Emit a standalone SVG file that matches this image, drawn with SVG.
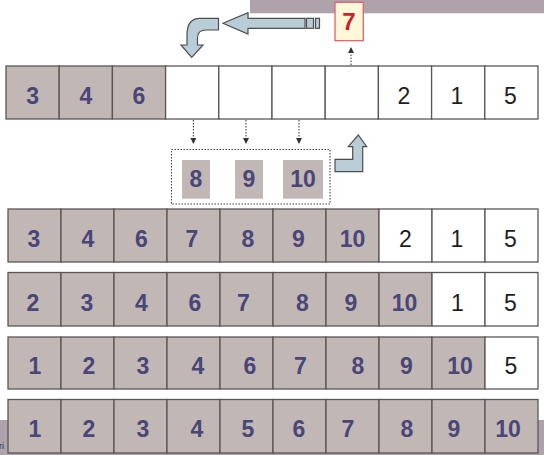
<svg xmlns="http://www.w3.org/2000/svg" width="544" height="455" viewBox="0 0 544 455">
<style>
.g{fill:#c1b7b5;stroke:#5a5656;stroke-width:1.3}
.w{fill:#ffffff;stroke:#5a5656;stroke-width:1.3}
.tg{font-family:"Liberation Sans",Arial,sans-serif;font-size:23px;font-weight:bold;fill:#4b4678;text-anchor:middle}
.tw{font-family:"Liberation Sans",Arial,sans-serif;font-size:23px;fill:#1e1e1e;text-anchor:middle}
.blk{fill:#b9cdd6;stroke:#4e4e4e;stroke-width:1.2}
.dot{fill:none;stroke:#444;stroke-width:1.1;stroke-dasharray:1.5 1.5}
</style>
<defs>
<marker id="ah" markerWidth="6" markerHeight="6" refX="5" refY="3" orient="auto" markerUnits="userSpaceOnUse">
<path d="M0,0 L6,3 L0,6 Z" fill="#333"/>
</marker>
</defs>
<rect x="0" y="0" width="544" height="455" fill="#fff"/>
<g id="bands">
<rect x="250" y="0" width="294" height="13.3" fill="#aea2ab"/>
<rect x="0" y="420" width="544" height="35" fill="#aea2ab"/>
<text x="-1" y="449" font-family="Liberation Sans,Arial,sans-serif" font-size="9" fill="#333">ri</text>
</g>
<g id="connectors">
<path class="dot" d="M193.4,99 V143" marker-end="url(#ah)"/>
<path class="dot" d="M246,99 V143" marker-end="url(#ah)"/>
<path class="dot" d="M299,99 V143" marker-end="url(#ah)"/>
<path class="dot" d="M351,95 V48" marker-end="url(#ah)"/>
<path class="blk" d="M223,23.3 L248,12.7 L248,18.3 L305,18.3 L305,28.3 L248,28.3 L248,34 Z"/>
<rect class="blk" x="306.5" y="18.3" width="7" height="10"/>
<rect class="blk" x="315.5" y="18.3" width="4" height="10"/>
<path class="blk" d="M218.5,18.3 L200,18.3 Q187,18.3 187,35 L187,45 L181,45 L191.7,57.3 L203,45 L197.5,45 L197.5,38 Q197.5,30 206,30 L218.5,30 Z"/>
<path class="blk" d="M335,159.3 L352.7,159.3 L352.7,146.7 L348.3,146.7 L358.3,135 L366.7,146.7 L362.7,146.7 L362.7,171.7 L335,171.7 Z"/>
</g>
<g id="node-7">
<rect x="335" y="2.3" width="28.3" height="38.4" fill="#fff8d8" stroke="#e0606c" stroke-width="1.3"/>
<text x="349" y="30" font-family="Liberation Sans,Arial,sans-serif" font-size="24" font-weight="bold" fill="#cc1f2e" text-anchor="middle">7</text>
</g>
<g id="row1">
<rect class="g" x="6" y="66" width="53.2" height="53"/>
<rect class="g" x="59.2" y="66" width="53.2" height="53"/>
<rect class="g" x="112.4" y="66" width="53.2" height="53"/>
<rect class="w" x="165.6" y="66" width="53.2" height="53"/>
<rect class="w" x="218.8" y="66" width="53.2" height="53"/>
<rect class="w" x="272" y="66" width="53.2" height="53"/>
<rect class="w" x="325.2" y="66" width="53.2" height="53"/>
<rect class="w" x="378.4" y="66" width="53.2" height="53"/>
<rect class="w" x="431.6" y="66" width="53.2" height="53"/>
<rect class="w" x="484.8" y="66" width="53.2" height="53"/>
<text class="tg" x="32.6" y="104">3</text>
<text class="tg" x="85.8" y="104">4</text>
<text class="tg" x="139" y="104">6</text>
<text class="tw" x="404" y="104">2</text>
<text class="tw" x="457" y="104">1</text>
<text class="tw" x="510.5" y="104">5</text>
</g>
<g id="buffer">
<rect class="dot" x="171.5" y="149.5" width="158.5" height="54.5"/>
<rect x="182" y="160" width="28" height="38.7" fill="#c1b7b5"/>
<rect x="235" y="160" width="28" height="38.7" fill="#c1b7b5"/>
<rect x="283" y="160" width="40" height="38.7" fill="#c1b7b5"/>
<text class="tg" x="196" y="187">8</text>
<text class="tg" x="249" y="187">9</text>
<text class="tg" x="303" y="187">10</text>
</g>
<g id="row2">
<rect class="g" x="8" y="209" width="53" height="53"/>
<rect class="g" x="61" y="209" width="53" height="53"/>
<rect class="g" x="114" y="209" width="53" height="53"/>
<rect class="g" x="167" y="209" width="53" height="53"/>
<rect class="g" x="220" y="209" width="53" height="53"/>
<rect class="g" x="273" y="209" width="53" height="53"/>
<rect class="g" x="326" y="209" width="53" height="53"/>
<rect class="w" x="379" y="209" width="53" height="53"/>
<rect class="w" x="432" y="209" width="53" height="53"/>
<rect class="w" x="485" y="209" width="53" height="53"/>
<text class="tg" x="34" y="247">3</text>
<text class="tg" x="88" y="247">4</text>
<text class="tg" x="141.5" y="247">6</text>
<text class="tg" x="192" y="247">7</text>
<text class="tg" x="248" y="247">8</text>
<text class="tg" x="298.5" y="247">9</text>
<text class="tg" x="352.5" y="247">10</text>
<text class="tw" x="405.5" y="247">2</text>
<text class="tw" x="457" y="247">1</text>
<text class="tw" x="510.5" y="247">5</text>
</g>
<g id="row3">
<rect class="g" x="8" y="272.5" width="53" height="53.5"/>
<rect class="g" x="61" y="272.5" width="53" height="53.5"/>
<rect class="g" x="114" y="272.5" width="53" height="53.5"/>
<rect class="g" x="167" y="272.5" width="53" height="53.5"/>
<rect class="g" x="220" y="272.5" width="53" height="53.5"/>
<rect class="g" x="273" y="272.5" width="53" height="53.5"/>
<rect class="g" x="326" y="272.5" width="53" height="53.5"/>
<rect class="g" x="379" y="272.5" width="53" height="53.5"/>
<rect class="w" x="432" y="272.5" width="53" height="53.5"/>
<rect class="w" x="485" y="272.5" width="53" height="53.5"/>
<text class="tg" x="33" y="310.5">2</text>
<text class="tg" x="87" y="310.5">3</text>
<text class="tg" x="141.5" y="310.5">4</text>
<text class="tg" x="195" y="310.5">6</text>
<text class="tg" x="243.5" y="310.5">7</text>
<text class="tg" x="302.5" y="310.5">8</text>
<text class="tg" x="351" y="310.5">9</text>
<text class="tg" x="404.5" y="310.5">10</text>
<text class="tw" x="457.5" y="310.5">1</text>
<text class="tw" x="510.5" y="310.5">5</text>
</g>
<g id="row4">
<rect class="g" x="8" y="337" width="53" height="52"/>
<rect class="g" x="61" y="337" width="53" height="52"/>
<rect class="g" x="114" y="337" width="53" height="52"/>
<rect class="g" x="167" y="337" width="53" height="52"/>
<rect class="g" x="220" y="337" width="53" height="52"/>
<rect class="g" x="273" y="337" width="53" height="52"/>
<rect class="g" x="326" y="337" width="53" height="52"/>
<rect class="g" x="379" y="337" width="53" height="52"/>
<rect class="g" x="432" y="337" width="53" height="52"/>
<rect class="w" x="485" y="337" width="53" height="52"/>
<text class="tg" x="35" y="374">1</text>
<text class="tg" x="89" y="374">2</text>
<text class="tg" x="143" y="374">3</text>
<text class="tg" x="198" y="374">4</text>
<text class="tg" x="250" y="374">6</text>
<text class="tg" x="300.5" y="374">7</text>
<text class="tg" x="358" y="374">8</text>
<text class="tg" x="406.5" y="374">9</text>
<text class="tg" x="460" y="374">10</text>
<text class="tw" x="511" y="374">5</text>
</g>
<g id="row5">
<rect class="g" x="8" y="399.5" width="53" height="53.5"/>
<rect class="g" x="61" y="399.5" width="53" height="53.5"/>
<rect class="g" x="114" y="399.5" width="53" height="53.5"/>
<rect class="g" x="167" y="399.5" width="53" height="53.5"/>
<rect class="g" x="220" y="399.5" width="53" height="53.5"/>
<rect class="g" x="273" y="399.5" width="53" height="53.5"/>
<rect class="g" x="326" y="399.5" width="53" height="53.5"/>
<rect class="g" x="379" y="399.5" width="53" height="53.5"/>
<rect class="g" x="432" y="399.5" width="53" height="53.5"/>
<rect class="g" x="485" y="399.5" width="53" height="53.5"/>
<text class="tg" x="35" y="437">1</text>
<text class="tg" x="89" y="437">2</text>
<text class="tg" x="143" y="437">3</text>
<text class="tg" x="197" y="437">4</text>
<text class="tg" x="248" y="437">5</text>
<text class="tg" x="299" y="437">6</text>
<text class="tg" x="348" y="437">7</text>
<text class="tg" x="407" y="437">8</text>
<text class="tg" x="454" y="437">9</text>
<text class="tg" x="508" y="437">10</text>
</g>
</svg>
